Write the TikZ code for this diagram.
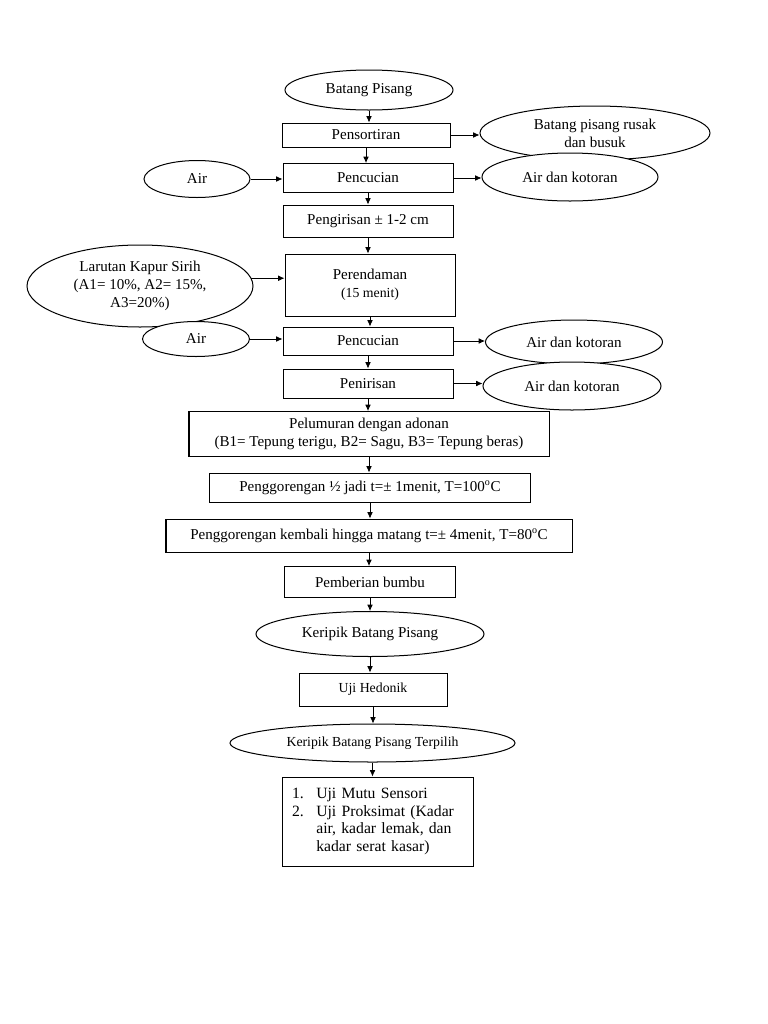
\documentclass[tikz,border=0pt]{standalone}
\usepackage{fontspec}
\setmainfont{Liberation Serif}
\usepackage{tikz}
\usetikzlibrary{shapes,arrows,arrows.meta,positioning}
\newcommand{\pxl}{0.797pt}
\tikzset{%
	prosesnode/.style 2 args={rectangle, draw=black, line width=0.8pt, fill=white, inner sep=0pt, align=center, minimum width=#1*\pxl, minimum height=#2*\pxl},
	bahannode/.style 2 args={ellipse, draw=black, line width=0.8pt, fill=white, inner sep=0pt, align=center, minimum width=#1*\pxl, minimum height=#2*\pxl},
	kecil/.style={font=\fontsize{11}{13}\selectfont},
	topanah/.style={draw=black, line width=0.6pt, ->, >={Latex[length=5pt,width=4.5pt]}, shorten >=0pt}}

\begin{document}
\begin{tikzpicture}[x=\pxl, y=-\pxl, font=\fontsize{12}{14.3}\selectfont]
		\useasboundingbox (0,0) rectangle (768,1024);
		
		\node[bahannode={168}{40}] (batang) at (369,90) {Batang Pisang};
		\node[prosesnode={168}{24}] (sortir) at (366,135) {Pensortiran};
		\node[bahannode={230}{54}] (rusak) at (595,133) {Batang pisang rusak\\dan busuk};
		\node[prosesnode={170}{29}] (cuci1) at (368,178) {Pencucian};
		\node[bahannode={106}{37}] (air1) at (197,179) {Air};
		\node[bahannode={176}{48}] (adk1) at (570,177) {Air dan kotoran};
		\node[prosesnode={170}{32}] (iris) at (368,221) {Pengirisan ± 1-2 cm};
		\node[prosesnode={170}{62}] (rendam) at (370,285) {Perendaman\\{\fontsize{11}{13}\selectfont(15 menit)}};
		\node[bahannode={226}{82}] (larutan) at (140,286) {Larutan Kapur Sirih\\(A1= 10\%, A2= 15\%,\\A3=20\%)};
		\node[bahannode={107}{35}] (air2) at (196,339) {Air};
		\node[prosesnode={170}{28}] (cuci2) at (368,341) {Pencucian};
		\node[bahannode={177}{44}] (adk2) at (574,342) {Air dan kotoran};
		\node[prosesnode={170}{29}] (tiris) at (368,383.5) {Penirisan};
		\node[bahannode={178}{48}] (adk3) at (572,386) {Air dan kotoran};
		\node[prosesnode={360}{45}] (lumur) at (369,434) {Pelumuran dengan adonan\\(B1= Tepung terigu, B2= Sagu, B3= Tepung beras)};
		\node[prosesnode={321}{29}] (goreng1) at (370,487.5) {Penggorengan ½ jadi t=± 1menit, T=100\textsuperscript{o}C};
		\node[prosesnode={406}{33}] (goreng2) at (369,535.5) {Penggorengan kembali hingga matang t=± 4menit, T=80\textsuperscript{o}C};
		\node[prosesnode={171}{31}] (bumbu) at (370,582) {Pemberian bumbu};
		\node[bahannode={228}{45}] (keripik) at (370,634) {Keripik Batang Pisang};
		\node[prosesnode={148}{33}, kecil] (hedonik) at (373,689.5) {Uji Hedonik};
		\node[bahannode={285}{38}, kecil] (terpilih) at (372.5,743) {Keripik Batang Pisang Terpilih};
		\node[prosesnode={191}{89}, align=left, text width=171*\pxl, inner xsep=10*\pxl, font=\fontsize{12.5}{14}\selectfont] (uji) at (377.5,821.5)
			{\begin{tabular}{@{}l@{\hspace{10pt}}l@{}}1. & Uji Mutu Sensori\\2. & Uji Proksimat (Kadar\\ & air, kadar lemak, dan\\ & kadar serat kasar)\end{tabular}};
		
		\path[topanah] (batang.south) -- (batang.south |- sortir.north);
		\path[topanah] (sortir.east) -- (sortir.east -| rusak.west);
		\path[topanah] (sortir.south) -- (sortir.south |- cuci1.north);
		\path[topanah] (air1.east) -- (air1.east -| cuci1.west);
		\path[topanah] (cuci1.east) -- (cuci1.east -| adk1.west);
		\path[topanah] (cuci1.south) -- (cuci1.south |- iris.north);
		\path[topanah] (iris.south) -- (iris.south |- rendam.north);
		\path[topanah] (larutan.4) -- (larutan.4 -| rendam.west);
		\path[topanah] (rendam.south) -- (rendam.south |- cuci2.north);
		\path[topanah] (air2.east) -- (air2.east -| cuci2.west);
		\path[topanah] (cuci2.east) -- (cuci2.east -| adk2.west);
		\path[topanah] (cuci2.south) -- (cuci2.south |- tiris.north);
		\path[topanah] (tiris.east) -- (tiris.east -| adk3.west);
		\path[topanah] (tiris.south) -- (tiris.south |- lumur.north);
		\path[topanah] (lumur.south) -- (lumur.south |- goreng1.north);
		\path[topanah] (goreng1.south) -- (goreng1.south |- goreng2.north);
		\path[topanah] (goreng2.south) -- (goreng2.south |- bumbu.north);
		\path[topanah] (bumbu.south) -- (bumbu.south |- keripik.north);
		\path[topanah] (keripik.south) -- (keripik.south |- hedonik.north);
		\path[topanah] (hedonik.south) -- (hedonik.south |- terpilih.north);
		\path[topanah] (terpilih.south) -- (terpilih.south |- uji.north);
	\end{tikzpicture}
\end{document}
